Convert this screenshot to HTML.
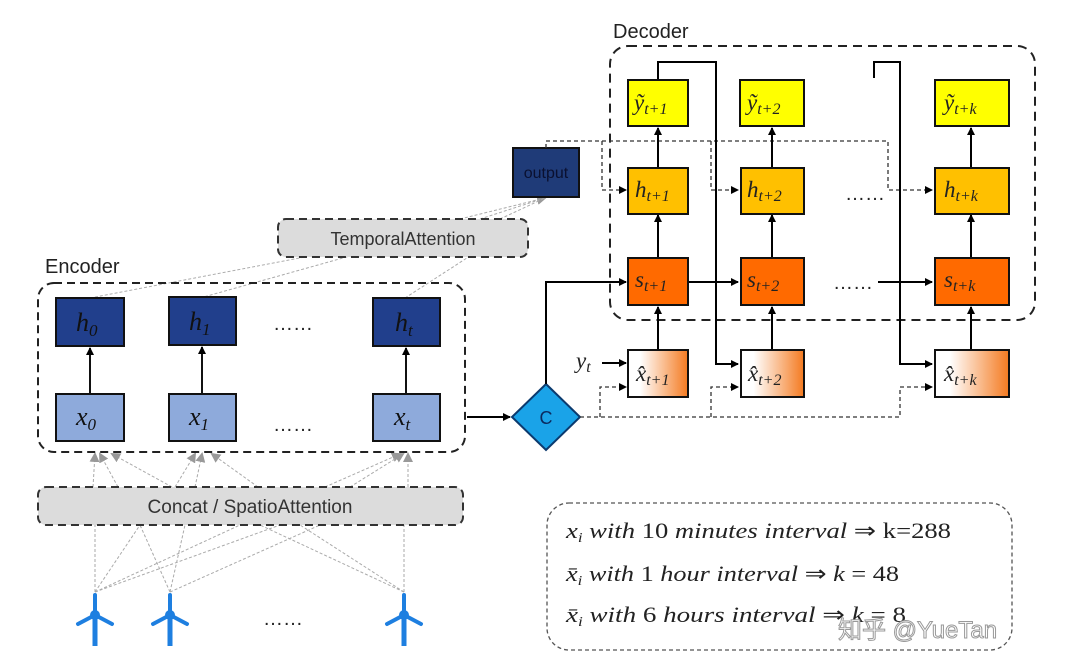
<!DOCTYPE html>
<html><head><meta charset="utf-8"><style>
html,body{margin:0;padding:0;background:#fff;}
svg{display:block;}
.m{font-family:"Liberation Serif",serif;font-style:italic;}
.s{font-family:"Liberation Sans",sans-serif;}
</style></head><body>
<svg width="1080" height="671" viewBox="0 0 1080 671" xmlns="http://www.w3.org/2000/svg">
<defs>
<marker id="a" markerWidth="8" markerHeight="8" refX="7" refY="4" orient="auto" markerUnits="userSpaceOnUse"><path d="M0,0L8,4L0,8z" fill="#000"/></marker>
<marker id="g" markerWidth="10" markerHeight="10" refX="8" refY="5" orient="auto" markerUnits="userSpaceOnUse"><path d="M0,0L10,5L0,10z" fill="#999"/></marker>
<linearGradient id="xg" x1="0" x2="1"><stop offset="0.2" stop-color="#fff"/><stop offset="1" stop-color="#f47a20"/></linearGradient>
</defs>

<g stroke="#aaa" stroke-width="1" stroke-dasharray="3,2" fill="none">
<line x1="90" y1="298" x2="310" y2="256"/><line x1="200" y1="298" x2="350" y2="256"/><line x1="405" y1="298" x2="470" y2="256"/>
<line x1="460" y1="219" x2="545" y2="198" marker-end="url(#g)"/><line x1="480" y1="219" x2="545" y2="198"/><line x1="500" y1="219" x2="545" y2="198"/>
<line x1="93" y1="487" x2="95" y2="454" marker-end="url(#g)"/><line x1="118" y1="487" x2="100" y2="454" marker-end="url(#g)"/><line x1="172" y1="487" x2="112" y2="454" marker-end="url(#g)"/>
<line x1="175" y1="487" x2="195" y2="454" marker-end="url(#g)"/><line x1="195" y1="487" x2="202" y2="454" marker-end="url(#g)"/><line x1="258" y1="487" x2="212" y2="454" marker-end="url(#g)"/>
<line x1="325" y1="487" x2="400" y2="454" marker-end="url(#g)"/><line x1="350" y1="487" x2="403" y2="454" marker-end="url(#g)"/><line x1="408" y1="487" x2="408" y2="454" marker-end="url(#g)"/>
<line x1="95" y1="592" x2="95" y2="525"/><line x1="95" y1="592" x2="140" y2="525"/><line x1="95" y1="592" x2="280" y2="525"/>
<line x1="170" y1="592" x2="140" y2="525"/><line x1="170" y1="592" x2="185" y2="525"/><line x1="170" y1="592" x2="320" y2="525"/>
<line x1="404" y1="592" x2="404" y2="525"/><line x1="404" y1="592" x2="260" y2="525"/><line x1="404" y1="592" x2="300" y2="525"/>
<line x1="95" y1="592" x2="240" y2="525"/>
</g>

<text x="45" y="273" class="s" font-size="20" fill="#222">Encoder</text>
<rect x="38" y="283" width="427" height="169" rx="16" fill="none" stroke="#222" stroke-width="2" stroke-dasharray="8,5"/>
<g stroke="#111" stroke-width="2">
<rect x="56" y="298" width="68" height="48" fill="#213f8c"/><rect x="169" y="297" width="67" height="48" fill="#213f8c"/><rect x="373" y="298" width="67" height="48" fill="#213f8c"/>
<rect x="56" y="394" width="68" height="47" fill="#8eaadb"/><rect x="169" y="394" width="67" height="47" fill="#8eaadb"/><rect x="373" y="394" width="67" height="47" fill="#8eaadb"/>
<line x1="90" y1="394" x2="90" y2="348" marker-end="url(#a)"/><line x1="202" y1="394" x2="202" y2="347" marker-end="url(#a)"/><line x1="406" y1="394" x2="406" y2="348" marker-end="url(#a)"/>
</g>
<g class="m" font-size="26" fill="#111">
<text x="76" y="331">h<tspan font-size="17" dy="5">0</tspan></text>
<text x="189" y="330">h<tspan font-size="17" dy="5">1</tspan></text>
<text x="395" y="331">h<tspan font-size="17" dy="5">t</tspan></text>
<text x="76" y="425">x<tspan font-size="17" dy="5">0</tspan></text>
<text x="189" y="425">x<tspan font-size="17" dy="5">1</tspan></text>
<text x="394" y="425">x<tspan font-size="17" dy="5">t</tspan></text>
</g>
<text x="273" y="330" font-size="20" font-family="Liberation Sans" fill="#222">……</text>
<text x="273" y="431" font-size="20" font-family="Liberation Sans" fill="#222">……</text>

<rect x="278" y="219" width="250" height="38" rx="8" fill="#dcdcdc" stroke="#333" stroke-width="2" stroke-dasharray="8,5"/>
<text x="403" y="245" text-anchor="middle" class="s" font-size="18" fill="#333">TemporalAttention</text>
<rect x="38" y="487" width="425" height="38" rx="8" fill="#dcdcdc" stroke="#333" stroke-width="2" stroke-dasharray="8,5"/>
<text x="250" y="513" text-anchor="middle" class="s" font-size="19" fill="#333">Concat / SpatioAttention</text>

<g fill="#1e7fe0" stroke="#1e7fe0">
<g transform="translate(95,615)"><rect x="-2.5" y="0" width="5" height="31" stroke="none"/><path d="M0,0L0,-20M0,0L-17,9M0,0L17,9" stroke-width="4" stroke-linecap="round"/><circle r="4.5"/></g>
<g transform="translate(170,615)"><rect x="-2.5" y="0" width="5" height="31" stroke="none"/><path d="M0,0L0,-20M0,0L-17,9M0,0L17,9" stroke-width="4" stroke-linecap="round"/><circle r="4.5"/></g>
<g transform="translate(404,615)"><rect x="-2.5" y="0" width="5" height="31" stroke="none"/><path d="M0,0L0,-20M0,0L-17,9M0,0L17,9" stroke-width="4" stroke-linecap="round"/><circle r="4.5"/></g>
</g>
<text x="263" y="625" font-size="20" font-family="Liberation Sans" fill="#222">……</text>

<line x1="467" y1="417" x2="510" y2="417" stroke="#000" stroke-width="2" marker-end="url(#a)"/>
<path d="M546,384L580,417L546,450L512,417z" fill="#1aa3e8" stroke="#0b3a6e" stroke-width="2"/>
<text x="546" y="424" text-anchor="middle" class="s" font-size="18" fill="#0b2a5e">C</text>

<rect x="513" y="148" width="66" height="49" fill="#1f3b78" stroke="#111" stroke-width="2"/>
<text x="546" y="178" text-anchor="middle" class="s" font-size="16" fill="#0a1030">output</text>

<text x="613" y="38" class="s" font-size="20" fill="#222">Decoder</text>
<rect x="610" y="46" width="425" height="274" rx="18" fill="none" stroke="#222" stroke-width="2" stroke-dasharray="9,6"/>

<g stroke="#333" stroke-width="1.3" stroke-dasharray="4,3" fill="none">
<path d="M546,148V141H888V190H932" marker-end="url(#a)"/>
<path d="M602,141V190H626" marker-end="url(#a)"/>
<path d="M711,141V190H738" marker-end="url(#a)"/>
<path d="M580,417H900V387H932" marker-end="url(#a)"/>
<path d="M600,417V387H626" marker-end="url(#a)"/>
<path d="M711,417V387H738" marker-end="url(#a)"/>
</g>
<g stroke="#000" stroke-width="2" fill="none">
<path d="M546,384V282H626" marker-end="url(#a)"/>
<path d="M689,282H738" marker-end="url(#a)"/>
<path d="M878,282H932" marker-end="url(#a)"/>
<path d="M658,80V62H716V364H738" marker-end="url(#a)"/>
<path d="M874,78V62H900V364H932" marker-end="url(#a)"/>
<line x1="602" y1="363" x2="626" y2="363" marker-end="url(#a)"/>
<line x1="658" y1="350" x2="658" y2="307" marker-end="url(#a)"/><line x1="658" y1="258" x2="658" y2="215" marker-end="url(#a)"/><line x1="658" y1="168" x2="658" y2="128" marker-end="url(#a)"/>
<line x1="772" y1="350" x2="772" y2="307" marker-end="url(#a)"/><line x1="772" y1="258" x2="772" y2="215" marker-end="url(#a)"/><line x1="772" y1="168" x2="772" y2="128" marker-end="url(#a)"/>
<line x1="971" y1="350" x2="971" y2="307" marker-end="url(#a)"/><line x1="971" y1="258" x2="971" y2="215" marker-end="url(#a)"/><line x1="971" y1="168" x2="971" y2="128" marker-end="url(#a)"/>
</g>
<g stroke="#111" stroke-width="2">
<rect x="628" y="80" width="60" height="46" fill="#ffff00"/><rect x="740" y="80" width="64" height="46" fill="#ffff00"/><rect x="935" y="80" width="74" height="46" fill="#ffff00"/>
<rect x="628" y="168" width="60" height="46" fill="#ffc000"/><rect x="741" y="168" width="63" height="46" fill="#ffc000"/><rect x="935" y="168" width="74" height="46" fill="#ffc000"/>
<rect x="628" y="258" width="60" height="47" fill="#ff6a00"/><rect x="741" y="258" width="63" height="47" fill="#ff6a00"/><rect x="935" y="258" width="74" height="47" fill="#ff6a00"/>
<rect x="628" y="350" width="60" height="47" fill="url(#xg)"/><rect x="741" y="350" width="63" height="47" fill="url(#xg)"/><rect x="935" y="350" width="74" height="47" fill="url(#xg)"/>
</g>
<g class="m" font-size="23" fill="#222">
<text x="634" y="110">ỹ<tspan font-size="16" dy="4">t+1</tspan></text>
<text x="747" y="110">ỹ<tspan font-size="16" dy="4">t+2</tspan></text>
<text x="944" y="110">ỹ<tspan font-size="16" dy="4">t+k</tspan></text>
<text x="635" y="197">h<tspan font-size="16" dy="4">t+1</tspan></text>
<text x="747" y="197">h<tspan font-size="16" dy="4">t+2</tspan></text>
<text x="944" y="197">h<tspan font-size="16" dy="4">t+k</tspan></text>
<text x="635" y="287">s<tspan font-size="16" dy="4">t+1</tspan></text>
<text x="747" y="287">s<tspan font-size="16" dy="4">t+2</tspan></text>
<text x="944" y="287">s<tspan font-size="16" dy="4">t+k</tspan></text>
<text x="636" y="381">x̂<tspan font-size="16" dy="4">t+1</tspan></text>
<text x="748" y="381">x̂<tspan font-size="16" dy="4">t+2</tspan></text>
<text x="944" y="381">x̂<tspan font-size="16" dy="4">t+k</tspan></text>
<text x="576" y="368">y<tspan font-size="16" dy="4">t</tspan></text>
</g>
<text x="845" y="200" font-size="20" font-family="Liberation Sans" fill="#222">……</text>
<text x="833" y="289" font-size="20" font-family="Liberation Sans" fill="#222">……</text>

<rect x="547" y="503" width="465" height="147" rx="22" fill="none" stroke="#555" stroke-width="1.3" stroke-dasharray="4,3"/>
<g font-family="Liberation Serif,serif" font-size="22" fill="#222">
<text x="566" y="538" textLength="385" lengthAdjust="spacingAndGlyphs"><tspan font-style="italic">x<tspan font-size="14" dy="4">i</tspan><tspan dy="-4"> with </tspan></tspan>10 <tspan font-style="italic">minutes interval</tspan> ⇒  k=288</text>
<text x="566" y="581" textLength="333" lengthAdjust="spacingAndGlyphs"><tspan font-style="italic">x̄<tspan font-size="14" dy="4">i</tspan><tspan dy="-4"> with </tspan></tspan>1 <tspan font-style="italic">hour interval</tspan> ⇒ <tspan font-style="italic">k</tspan> = 48</text>
<text x="566" y="622" textLength="340" lengthAdjust="spacingAndGlyphs"><tspan font-style="italic">x̄<tspan font-size="14" dy="4">i</tspan><tspan dy="-4"> with </tspan></tspan>6 <tspan font-style="italic">hours interval</tspan> ⇒ <tspan font-style="italic">k</tspan> = 8</text>
</g>
<text x="838" y="638" font-family="Liberation Sans,'Noto Sans CJK SC',sans-serif" font-size="24" fill="#fff" stroke="#999" stroke-width="1">知乎 @YueTan</text>
</svg>
</body></html>
